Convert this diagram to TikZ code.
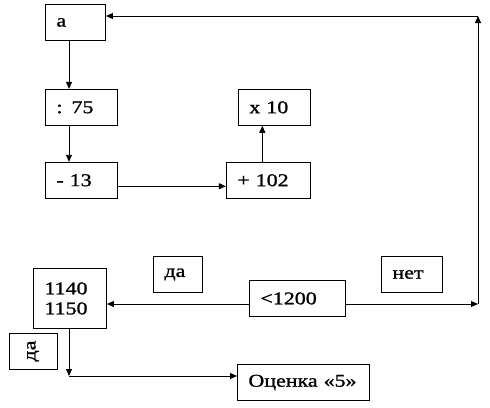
\documentclass[tikz,border=0pt]{standalone}
\usepackage{fontspec}
\setmainfont{Liberation Serif}
\newfontfamily\wide{Liberation Serif}[FakeStretch=1.22, FakeBold=1.2]
\usepackage{xcolor}
\usepackage{tikz}
\usetikzlibrary{positioning,arrows.meta}

\begin{document}
\begin{tikzpicture}[x=1pt, y=-1pt,
    box/.style = {draw, rectangle, line width=0.9pt, inner xsep=11pt, inner ysep=0pt,
                  minimum height=36pt, align=left, text width=#1,
                  font=\wide\fontsize{18}{20}\selectfont},
    arr/.style = {-{Triangle[length=7pt,width=6pt]}, line width=0.9pt}]
              \useasboundingbox (0,0) rectangle (490,407);

              \node[box=38pt, anchor=north west] (a) at (45,4) {a};
              \node[box=50pt, below=48pt of a.south west, anchor=north west] (d) {: 75};
              \node[box=50pt, below=36pt of d.south west, anchor=north west] (s) {- 13};
              \node[box=62pt, right=108pt of s.north east, anchor=north west] (p) {+ 102};
              \node[box=50pt, above=36pt of p.north east, anchor=south east] (m) {x 10};

              \node[box=51pt, minimum height=60pt, anchor=north west] (r) at (33,268) {1140\\1150};
              \node[box=74pt, anchor=north west] (c) at (249,280) {<1200};
              \node[box=27pt, anchor=north west] (y1) at (153,256) {да};
              \node[box=39pt, anchor=north west] (n) at (381,256) {нет};
              \node[draw, line width=0.9pt, rotate=90, minimum width=36pt, minimum height=48pt,
                    inner sep=0pt, font=\wide\fontsize{18}{20}\selectfont] (y2) at (33,351) {да};
              \node[box=110pt, anchor=north west] (o) at (237,364) {Оценка «5»};

              \coordinate (k1) at (478,16);
              \coordinate (k2) at (478,304);
              \coordinate (k3) at (69,376);
              \coordinate (q) at ([xshift=-6pt]p.north);

              \draw[arr] (a.south -| k3) -- (d.north -| k3);
              \draw[arr] (d.south -| k3) -- (s.north -| k3);
              \draw[arr] ([yshift=-6pt]s.east) -- ([yshift=-6pt]p.west);
              \draw[arr] (q) -- (q |- m.south);

              \draw[arr] (c.west |- k2) -- (r.east |- k2);
              \draw[arr] (c.east |- k2) -- (k2);
              \draw[arr] (k2) -- (k1);
              \draw[arr] (k1) -- (a.east |- k1);

              \draw[arr] (r.south -| k3) -- (k3);
              \draw[arr] (k3) -- (o.west |- k3);
            \end{tikzpicture}
\end{document}
